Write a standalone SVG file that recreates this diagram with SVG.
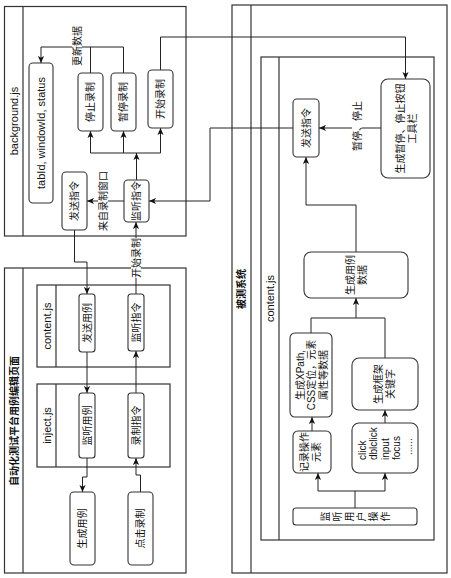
<svg xmlns="http://www.w3.org/2000/svg" width="451" height="578" viewBox="0 0 451 578">
<defs>
<marker id="ah" viewBox="0 0 8 8" refX="8" refY="4" markerWidth="7" markerHeight="7" markerUnits="userSpaceOnUse" orient="auto">
<path d="M0,0.5 L8,4 L0,7.5 L2,4 z" fill="#111"/>
</marker>
<style>
.pan{fill:none;stroke:#333;stroke-width:1.2}
.box{fill:#fff;stroke:#333;stroke-width:1.1}
.ln{fill:none;stroke:#222;stroke-width:1}
.arr{fill:none;stroke:#222;stroke-width:1;marker-end:url(#ah)}
.t{font-family:"Liberation Sans","Noto Sans CJK SC",sans-serif;font-size:10px;fill:#111;text-anchor:middle;dominant-baseline:central}
.ts{font-family:"Liberation Sans","Noto Sans CJK SC",sans-serif;font-size:10px;fill:#111;text-anchor:start;dominant-baseline:central}
.js{font-family:"Liberation Sans","Noto Sans CJK SC",sans-serif;font-size:11px;fill:#111;text-anchor:middle;dominant-baseline:central}
.tb{font-family:"Liberation Sans","Noto Sans CJK SC",sans-serif;font-size:10px;font-weight:bold;fill:#111;text-anchor:middle;dominant-baseline:central}
.lbl{fill:#fff;stroke:none}
</style>
</defs>

<!-- panels -->
<g id="panel-background">
<rect class="pan" x="4.5" y="6.5" width="181.5" height="229.5"/>
<line class="pan" x1="23" y1="6.5" x2="23" y2="236"/>
<text class="js" transform="translate(14,121) rotate(-90)">background.js</text>
</g>
<g id="panel-editor">
<rect class="pan" x="4.5" y="268" width="181.5" height="305"/>
<line class="pan" x1="23" y1="268" x2="23" y2="573"/>
<text class="tb" transform="translate(14,421) rotate(-90)">自动化测试平台用例编辑页面</text>
</g>
<g id="panel-content-left">
<rect class="pan" x="37" y="285" width="133" height="82"/>
<line class="pan" x1="56" y1="285" x2="56" y2="367"/>
<text class="js" transform="translate(46.5,326) rotate(-90)">content.js</text>
</g>
<g id="panel-inject">
<rect class="pan" x="37" y="384" width="133" height="83"/>
<line class="pan" x1="56" y1="384" x2="56" y2="467"/>
<text class="js" transform="translate(46.5,425.5) rotate(-90)">inject.js</text>
</g>
<g id="panel-system">
<rect class="pan" x="232" y="5" width="215" height="568"/>
<line class="pan" x1="251" y1="5" x2="251" y2="573"/>
<text class="tb" transform="translate(241.5,289) rotate(-90)">被测系统</text>
</g>
<g id="panel-content-right">
<rect class="pan" x="261" y="57" width="173" height="483"/>
<line class="pan" x1="279" y1="57" x2="279" y2="540"/>
<text class="js" transform="translate(270,298.5) rotate(-90)">content.js</text>
</g>

<!-- connectors -->
<g id="connectors">
<path class="arr" d="M90.5,73 V47 M123.5,73 V47 H41 V63"/>
<path class="arr" d="M136.5,180 V153"/>
<path class="ln" d="M90.5,153 H160.5"/>
<path class="arr" d="M90.5,153 V131"/>
<path class="arr" d="M123.5,153 V131"/>
<path class="arr" d="M160.5,153 V128"/>
<path class="arr" d="M160.5,70 V37 H405.5 V79"/>
<path class="arr" d="M293,128 H210 V201 H149"/>
<path class="arr" d="M124,201 H87"/>
<path class="arr" d="M74.5,230 V262 H87 V294"/>
<path class="arr" d="M136,294 V222"/>
<path class="arr" d="M87,352 V393"/>
<path class="arr" d="M136,393 V351"/>
<path class="arr" d="M87,458 V477 H82.5 V492"/>
<path class="arr" d="M140.5,492 V475 H136 V458"/>
<path class="arr" d="M381,128 H319"/>
<path class="arr" d="M356,252 V205 H306 V157"/>
<path class="ln" d="M311,333 V318 H385 V358"/>
<path class="arr" d="M356,318 V298"/>
<path class="arr" d="M312,431 V417"/>
<path class="arr" d="M385,423 V410"/>
<path class="ln" d="M355,508 V491 M318,491 H385"/>
<path class="arr" d="M318,491 V473"/>
<path class="arr" d="M385,491 V473"/>
<!-- labels -->
<rect class="lbl" x="72" y="27" width="10" height="38"/>
<text class="t" transform="translate(77,46) rotate(-90)">更新数据</text>
<rect class="lbl" x="98" y="172" width="10" height="58"/>
<text class="t" transform="translate(103,201) rotate(-90)">来自录制窗口</text>
<rect class="lbl" x="131" y="238" width="10" height="40"/>
<text class="t" transform="translate(136,258) rotate(-90)">开始录制</text>
<rect class="lbl" x="352" y="101" width="10" height="50"/>
<text class="t" transform="translate(357,126) rotate(-90)">暂停、停止</text>
</g>

<!-- nodes: background.js -->
<g id="n-tabs">
<rect class="box" x="29" y="63" width="24" height="140" rx="4"/>
<text class="js" transform="translate(41,133) rotate(-90)">tabId, windowId, status</text>
</g>
<g id="n-stop">
<rect class="box" x="78" y="73" width="25" height="58" rx="4"/>
<text class="t" transform="translate(90.5,102) rotate(-90)">停止录制</text>
</g>
<g id="n-pause">
<rect class="box" x="111" y="73" width="25" height="58" rx="4"/>
<text class="t" transform="translate(123.5,102) rotate(-90)">暂停录制</text>
</g>
<g id="n-start">
<rect class="box" x="148" y="70" width="25" height="58" rx="4"/>
<text class="t" transform="translate(160.5,99) rotate(-90)">开始录制</text>
</g>
<g id="n-bg-send">
<rect class="box" x="62" y="172" width="25" height="58" rx="4"/>
<text class="t" transform="translate(74.5,201) rotate(-90)">发送指令</text>
</g>
<g id="n-bg-listen">
<rect class="box" x="124" y="180" width="25" height="42" rx="4"/>
<text class="t" transform="translate(136.5,201) rotate(-90)">监听指令</text>
</g>

<!-- nodes: editor page -->
<g id="n-c-send">
<rect class="box" x="79" y="294" width="16" height="58" rx="3"/>
<text class="t" transform="translate(87,323) rotate(-90)">发送用例</text>
</g>
<g id="n-c-listen">
<rect class="box" x="128" y="294" width="16" height="57" rx="3"/>
<text class="t" transform="translate(136,322.5) rotate(-90)">监听指令</text>
</g>
<g id="n-i-listen">
<rect class="box" x="79" y="393" width="16" height="65" rx="3"/>
<text class="t" transform="translate(87,425.5) rotate(-90)">监听用例</text>
</g>
<g id="n-i-record">
<rect class="box" x="128" y="393" width="16" height="65" rx="3"/>
<text class="t" transform="translate(136,425.5) rotate(-90)">录制指令</text>
</g>
<g id="n-gen-case">
<rect class="box" x="70" y="492" width="25" height="73" rx="4"/>
<text class="t" transform="translate(82.5,528.5) rotate(-90)">生成用例</text>
</g>
<g id="n-click-rec">
<rect class="box" x="128" y="492" width="25" height="73" rx="4"/>
<text class="t" transform="translate(140.5,528.5) rotate(-90)">点击录制</text>
</g>

<!-- nodes: tested system -->
<g id="n-gen-btn">
<rect class="box" x="381" y="79" width="49" height="99" rx="7"/>
<text class="t" transform="translate(405.5,128.5) rotate(-90)"><tspan x="0" y="-6">生成暂停、停止按钮</tspan><tspan x="0" y="6">工具栏</tspan></text>
</g>
<g id="n-r-send">
<rect class="box" x="293" y="99" width="26" height="58" rx="4"/>
<text class="t" transform="translate(306,128) rotate(-90)">发送指令</text>
</g>
<g id="n-gen-data">
<rect class="box" x="304" y="252" width="104" height="46" rx="7"/>
<text class="t" transform="translate(356,275) rotate(-90)"><tspan x="0" y="-6">生成用例</tspan><tspan x="0" y="6">数据</tspan></text>
</g>
<g id="n-xpath">
<rect class="box" x="290" y="333" width="42" height="84" rx="5"/>
<text class="t" transform="translate(311,375) rotate(-90)"><tspan x="0" y="-11.5">生成XPath,</tspan><tspan x="0" y="0">CSS定位，元素</tspan><tspan x="0" y="11.5">属性等数据</tspan></text>
</g>
<g id="n-keyword">
<rect class="box" x="352" y="358" width="66" height="52" rx="7"/>
<text class="t" transform="translate(383,384) rotate(-90)"><tspan x="0" y="-5">生成框架</tspan><tspan x="0" y="7">关键字</tspan></text>
</g>
<g id="n-record-el">
<rect class="box" x="293" y="431" width="38" height="42" rx="5"/>
<text class="t" transform="translate(309,452) rotate(-90)"><tspan x="0" y="-5">记录操作</tspan><tspan x="0" y="7">元素</tspan></text>
</g>
<g id="n-events">
<rect class="box" x="352" y="423" width="66" height="50" rx="7"/>
<text class="ts" transform="translate(362,460) rotate(-90)">click</text>
<text class="ts" transform="translate(373.5,460) rotate(-90)">dblclick</text>
<text class="ts" transform="translate(385,460) rotate(-90)">input</text>
<text class="ts" transform="translate(396.5,460) rotate(-90)">focus</text>
<text class="ts" transform="translate(408,455) rotate(-90)">......</text>
</g>
<g id="n-listen-user">
<rect class="box" x="293" y="508" width="124" height="17" rx="3"/>
<text class="t" transform="translate(325,516.5) rotate(-90)">监</text>
<text class="t" transform="translate(337,516.5) rotate(-90)">听</text>
<text class="t" transform="translate(349,516.5) rotate(-90)">用</text>
<text class="t" transform="translate(361,516.5) rotate(-90)">户</text>
<text class="t" transform="translate(373,516.5) rotate(-90)">操</text>
<text class="t" transform="translate(385,516.5) rotate(-90)">作</text>
</g>
</svg>
